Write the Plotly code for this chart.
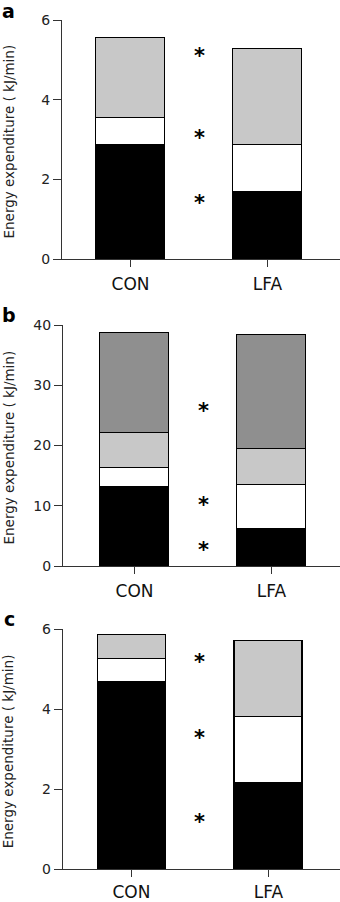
import plotly.graph_objects as go

categories = ["CON", "LFA"]

# Panel a (kJ/min), stacked segment heights bottom -> top
a_black = [2.86, 1.68]
a_white = [0.67, 1.17]
a_lgray = [2.01, 2.43]
a_stars = [5.21, 3.16, 1.54]
a_ticks = [0, 2, 4, 6]

# Panel b
b_black = [13.06, 6.09]
b_white = [3.24, 7.31]
b_lgray = [5.80, 6.00]
b_dgray = [16.50, 18.90]
b_stars = [26.6, 10.95, 3.5]
b_ticks = [0, 10, 20, 30, 40]

# Panel c
c_black = [4.67, 2.15]
c_white = [0.58, 1.64]
c_lgray = [0.61, 1.90]
c_stars = [5.32, 3.40, 1.32]
c_ticks = [0, 2, 4, 6]

ytitle = "Energy expenditure ( kJ/min)"
panel_letters = ["a", "b", "c"]

W, H = 340, 902
FONT = "DejaVu Sans"
BLACK, WHITE, LGRAY, DGRAY = "#000000", "#ffffff", "#c8c8c8", "#8f8f8f"

fig = go.Figure()

panels = [
    dict(segs=[(a_black, BLACK), (a_white, WHITE), (a_lgray, LGRAY)], stars=a_stars,
         ticks=a_ticks, yr=[0, 6], ypix=(259, 20), xr=[-0.50, 1.529], xpix=62, standoff=3),
    dict(segs=[(b_black, BLACK), (b_white, WHITE), (b_lgray, LGRAY), (b_dgray, DGRAY)], stars=b_stars,
         ticks=b_ticks, yr=[0, 40], ypix=(566, 325), xr=[-0.522, 1.50], xpix=63, standoff=3),
    dict(segs=[(c_black, BLACK), (c_white, WHITE), (c_lgray, LGRAY)], stars=c_stars,
         ticks=c_ticks, yr=[0, 6], ypix=(869.3, 629.3), xr=[-0.502, 1.522], xpix=62.7, standoff=0),
]

letter_pos = [(0, 11), (0, 315), (2, 619)]

annotations = []
for i, p in enumerate(panels, start=1):
    xa = "x" if i == 1 else f"x{i}"
    ya = "y" if i == 1 else f"y{i}"
    for vals, col in p["segs"]:
        fig.add_trace(go.Bar(x=categories, y=vals, marker=dict(color=col, line=dict(color="#000", width=1.2)),
                             width=0.5, xaxis=xa, yaxis=ya, showlegend=False, hoverinfo="skip"))
    ybot, ytop = p["ypix"]
    dom_y = [1 - ybot / H, 1 - ytop / H]
    axis_common = dict(showline=True, linecolor="#333", linewidth=1, ticks="outside",
                       tickcolor="#333", tickwidth=1, showgrid=False, zeroline=False, automargin=False)
    fig.layout[f"xaxis{'' if i == 1 else i}"] = dict(
        domain=[p["xpix"] / W, 1.0], anchor=ya, range=p["xr"], type="category",
        ticklen=7, ticklabelstandoff=p["standoff"], tickfont=dict(family=FONT, size=17, color="#111"), **axis_common)
    fig.layout[f"yaxis{'' if i == 1 else i}"] = dict(
        domain=dom_y, anchor=xa, range=p["yr"], tickvals=p["ticks"],
        ticklen=8, tickfont=dict(family=FONT, size=14, color="#222"), **axis_common)
    for s in p["stars"]:
        annotations.append(dict(x=0.5, y=s, xref=xa, yref=ya, text="<b>*</b>", showarrow=False,
                                font=dict(family=FONT, size=21, color="#000"), yshift=-5))
    annotations.append(dict(x=8 / W, y=(dom_y[0] + dom_y[1]) / 2 - 2 / H, xref="paper", yref="paper",
                            text=ytitle, textangle=-90, showarrow=False, xanchor="center", yanchor="middle",
                            font=dict(family=FONT, size=13.5, color="#222")))
    lx, ly = letter_pos[i - 1]
    annotations.append(dict(x=lx / W, y=1 - ly / H, xref="paper", yref="paper", text=f"<b>{panel_letters[i-1]}</b>",
                            showarrow=False, xanchor="left", yanchor="middle",
                            font=dict(family=FONT, size=19, color="#000")))

fig.update_layout(width=W, height=H, margin=dict(l=0, r=0, t=0, b=0, pad=0, autoexpand=False), barmode="stack",
                  plot_bgcolor="white", paper_bgcolor="white", annotations=annotations, bargap=0)

fig.write_html("out.html")
